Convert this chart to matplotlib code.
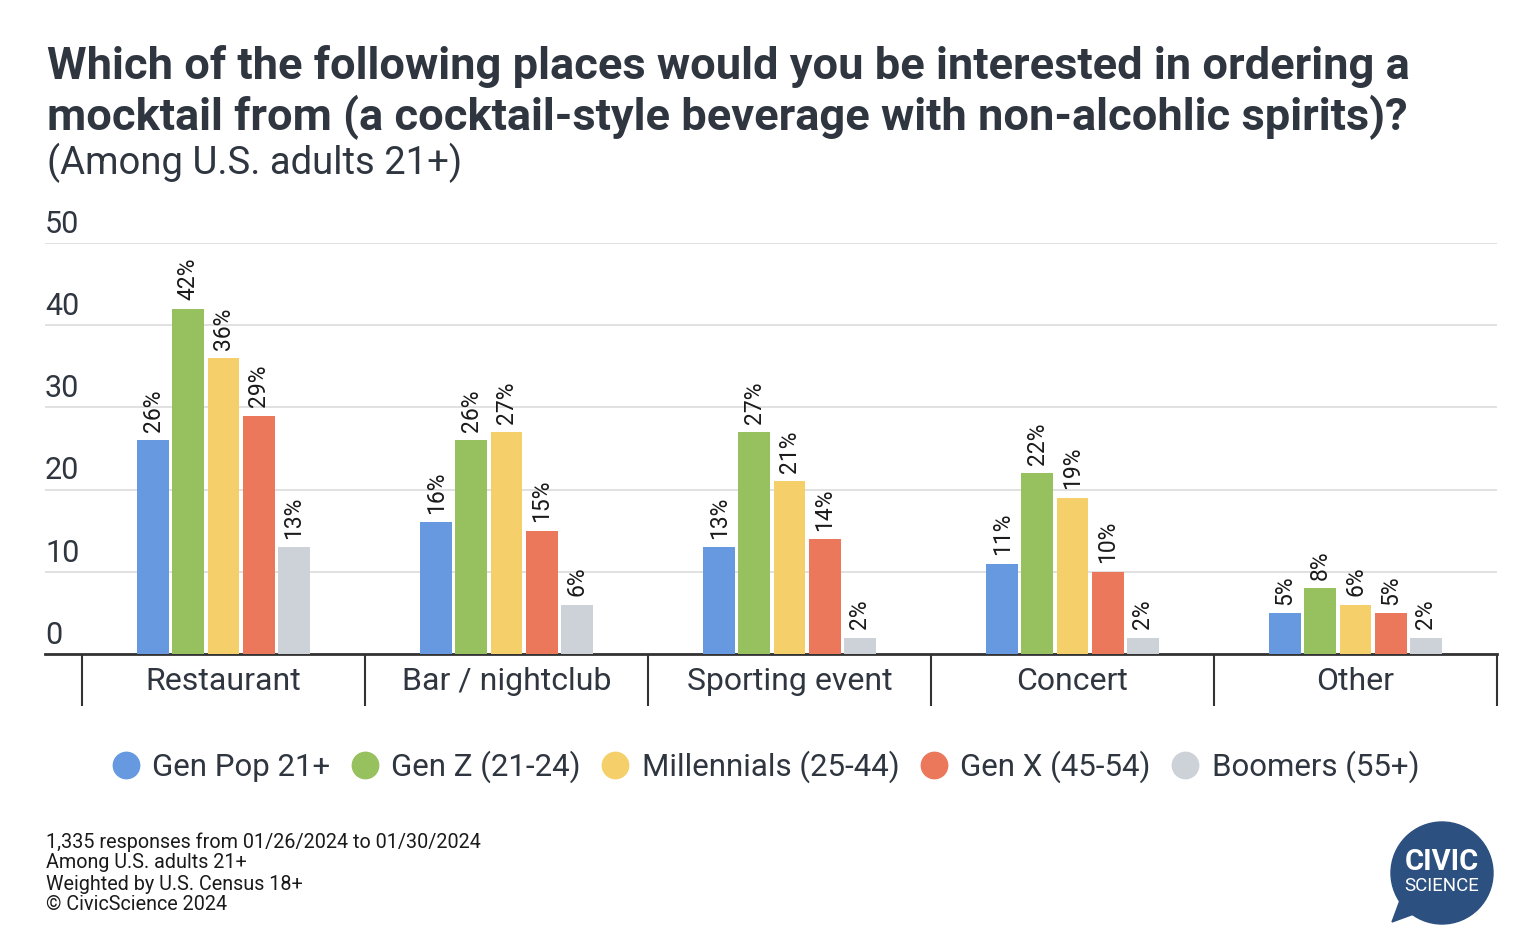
import matplotlib
matplotlib.use("Agg")
import matplotlib.pyplot as plt
import matplotlib.transforms as mtransforms
from matplotlib.patches import Circle, Polygon
from matplotlib.lines import Line2D
import numpy as np

plt.rcParams['font.family'] = ['Roboto', 'DejaVu Sans']

categories = ['Restaurant', 'Bar / nightclub', 'Sporting event', 'Concert', 'Other']
groups = ['Gen Pop 21+', 'Gen Z (21-24)', 'Millennials (25-44)', 'Gen X (45-54)', 'Boomers (55+)']
gen_pop = [26, 16, 13, 11, 5]
gen_z = [42, 26, 27, 22, 8]
millennials = [36, 27, 21, 19, 6]
gen_x = [29, 15, 14, 10, 5]
boomers = [13, 6, 2, 2, 2]
colors = ['#6699e0', '#97c05f', '#f5d06a', '#eb785a', '#cdd2d9']
yticks = [0, 10, 20, 30, 40, 50]

footer = ['1,335 responses from 01/26/2024 to 01/30/2024',
          'Among U.S. adults 21+',
          'Weighted by U.S. Census 18+',
          '\u00a9 CivicScience 2024']

TXT = '#2f3640'
W, H = 1536, 948
fig = plt.figure(figsize=(W / 100, H / 100), dpi=100)

# title
fig.text(47 / W, 1 - 67 / H, 'Which of the following places would you be interested in ordering a',
         fontsize=32.6, fontweight='bold', color=TXT, va='center', ha='left')
fig.text(47 / W, 1 - 117 / H, 'mocktail from (a cocktail-style beverage with non-alcohlic spirits)?',
         fontsize=32.6, fontweight='bold', color=TXT, va='center', ha='left')
fig.text(47 / W, 1 - 163 / H, '(Among U.S. adults 21+)', fontsize=27.5, color=TXT, va='center', ha='left')

ax = fig.add_axes([45 / W, 1 - 654 / H, (1497 - 45) / W, (654 - 243) / H])
series = [gen_pop, gen_z, millennials, gen_x, boomers]
x = np.arange(len(categories))
step = 0.1244
bw = 0.113
for i, (vals, c) in enumerate(zip(series, colors)):
    pos = x + (i - 2) * step
    ax.bar(pos, vals, width=bw, color=c, zorder=3)
    for p, v in zip(pos, vals):
        ax.annotate(f'{v}%', (p, v), xytext=(0, 6), textcoords='offset points',
                    rotation=90, ha='center', va='bottom', fontsize=16.5, color='#1a1a1a')

ax.set_xlim(-0.5 - 37 / 283, 4.5)
ax.set_ylim(0, 50)
ax.set_yticks(yticks)
ax.yaxis.grid(True, color='#dcdcdc', linewidth=1.2, zorder=0)
ax.tick_params(axis='y', length=0, labelleft=False)
ytr = mtransforms.blended_transform_factory(ax.transAxes, ax.transData) + \
    mtransforms.ScaledTranslation(0, 3 / 72, fig.dpi_scale_trans)
for t in yticks:
    ax.text(0, t, str(t), transform=ytr, ha='left', va='bottom', fontsize=22, color=TXT)

ax.set_xticks(x)
ax.set_xticklabels(categories, fontsize=23, color=TXT)
ax.tick_params(axis='x', length=0, pad=9)
for s in ['top', 'right', 'left']:
    ax.spines[s].set_visible(False)
ax.spines['bottom'].set_color('#333333')
ax.spines['bottom'].set_linewidth(2)

sep_tr = mtransforms.blended_transform_factory(ax.transData, ax.transAxes)
ax.vlines(np.arange(len(categories) + 1) - 0.5, -52 / 411, 0, transform=sep_tr,
          colors='#333333', linewidth=1.5, clip_on=False)

handles = [Line2D([], [], marker='o', linestyle='none', markersize=19, markerfacecolor=c,
                  markeredgecolor=c) for c in colors]
fig.legend(handles, groups, loc='center', bbox_to_anchor=(763 / W, 1 - 767 / H), ncol=5,
           frameon=False, fontsize=22.5, handletextpad=0.25, columnspacing=0.5,
           labelcolor=TXT, handlelength=1.2)

for k, line in enumerate(footer):
    fig.text(46 / W, 1 - (842 + 21 * k) / H, line, fontsize=14.2, color='#1a1a1a', va='center', ha='left')

# logo
lx0, lx1, ly0, ly1 = 1385, 1497, 818, 928
lax = fig.add_axes([lx0 / W, 1 - ly1 / H, (lx1 - lx0) / W, (ly1 - ly0) / H])
lax.set_xlim(lx0, lx1)
lax.set_ylim(ly1, ly0)
lax.axis('off')
navy = '#2c5080'
lax.add_patch(Circle((1442, 873), 51, color=navy))
lax.add_patch(Polygon([[1402, 895], [1392, 922], [1425, 910]], closed=True, color=navy))
lax.text(1442, 862, 'CIVIC', color='white', fontsize=21, fontweight='bold', ha='center', va='center')
lax.text(1442, 886, 'SCIENCE', color='white', fontsize=13.5, ha='center', va='center')

fig.savefig('out.png', dpi=100, facecolor='white')
